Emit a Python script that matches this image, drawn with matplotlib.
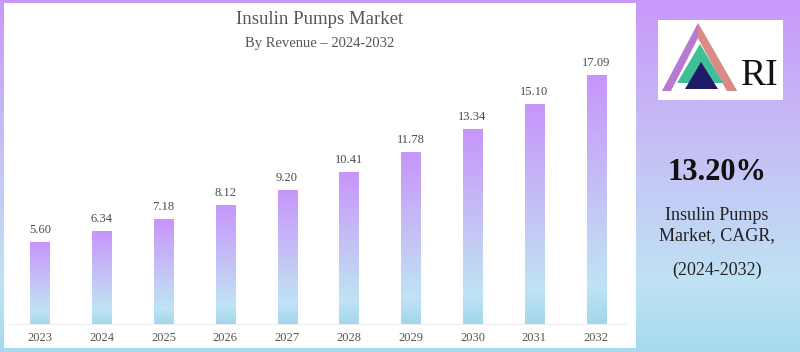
import matplotlib
matplotlib.use("Agg")
import matplotlib.pyplot as plt
import numpy as np
from matplotlib.colors import LinearSegmentedColormap
from matplotlib.patches import Rectangle, Polygon

plt.rcParams['font.family'] = ['Liberation Serif', 'DejaVu Serif']

years = ["2023", "2024", "2025", "2026", "2027", "2028", "2029", "2030", "2031", "2032"]
revenue = [5.60, 6.34, 7.18, 8.12, 9.20, 10.41, 11.78, 13.34, 15.10, 17.09]
title = "Insulin Pumps Market"
subtitle = "By Revenue \u2013 2024-2032"
cagr = "13.20%"

W, H = 800, 352
fig = plt.figure(figsize=(W / 100, H / 100), dpi=100)

# background gradient over the whole card
bg_cmap = LinearSegmentedColormap.from_list(
    "bg", [(0.0, "#a7daef"), (0.2, "#bfe2f4"), (0.55, "#c5c3f5"), (1.0, "#c999fa")])
bg = fig.add_axes([0, 0, 1, 1])
bg.imshow(np.linspace(0, 1, 256).reshape(-1, 1), cmap=bg_cmap, origin="lower",
          aspect="auto", extent=(0, W, 0, H))
bg.add_patch(Rectangle((4, 4), 632, 345, facecolor="white", edgecolor="none"))

# logo
bg.add_patch(Rectangle((658, H - 100), 125, 80, facecolor="white", edgecolor="none"))
bg.add_patch(Polygon([(662, H - 91), (698, H - 23), (737, H - 91), (727, H - 91),
                      (698, H - 38), (671, H - 91)], closed=True,
                     facecolor="#b77ad0", edgecolor="none"))
bg.add_patch(Polygon([(698, H - 23), (737, H - 91), (727, H - 91), (698, H - 38)],
                     closed=True, facecolor="#e18f78", edgecolor="none", alpha=0.85))
bg.add_patch(Polygon([(677, H - 83), (700, H - 44), (723, H - 83)], closed=True,
                     facecolor="#3fbf97", edgecolor="none"))
bg.add_patch(Polygon([(685, H - 89), (701, H - 62), (718, H - 89)], closed=True,
                     facecolor="#1f1b66", edgecolor="none"))
bg.text(760, H - 76, "RI", fontsize=27, color="#111111", ha="center", va="center")

# right panel text
bg.text(717, H - 173, cagr, fontsize=22, fontweight="bold", color="#111111",
        ha="center", va="center")
bg.text(717, H - 216, "Insulin Pumps", fontsize=13, color="#222222", ha="center", va="center")
bg.text(717, H - 236, "Market, CAGR,", fontsize=13, color="#222222", ha="center", va="center")
bg.text(717, H - 270, "(2024-2032)", fontsize=13, color="#222222", ha="center", va="center")

# titles
bg.text(320, H - 20, title, fontsize=13.5, color="#555555", ha="center", va="center")
bg.text(320, H - 43, subtitle, fontsize=10.5, color="#555555", ha="center", va="center")
bg.set_xlim(0, W)
bg.set_ylim(0, H)
bg.axis("off")

# bar chart
ax = fig.add_axes([9 / W, 28 / H, 618 / W, 291 / H])
ax.patch.set_alpha(0)
bar_cmap = LinearSegmentedColormap.from_list(
    "bar", [(0.0, "#a2d6ec"), (0.15, "#bfe4f4"), (0.5, "#c4c4f5"), (1.0, "#c795fb")])
grad = np.linspace(0, 1, 256).reshape(-1, 1)
x = np.arange(len(years))
bw = 0.31
for xi, v in zip(x, revenue):
    ax.imshow(grad, cmap=bar_cmap, origin="lower", aspect="auto",
              extent=(xi - bw / 2, xi + bw / 2, 0, v), zorder=2)
    ax.text(xi, v + 0.45, f"{v:.2f}", fontsize=9, color="#4a4a4a",
            ha="center", va="bottom")
ax.set_xlim(-0.5, len(years) - 0.5)
ax.set_ylim(0, 20)
ax.set_xticks(x)
ax.set_xticklabels(years, fontsize=9, color="#555555")
ax.tick_params(axis="x", length=0, pad=6)
ax.set_yticks([])
for s in ["top", "right", "left"]:
    ax.spines[s].set_visible(False)
ax.spines["bottom"].set_color("#eeeeee")

fig.savefig("out.png", dpi=100)
